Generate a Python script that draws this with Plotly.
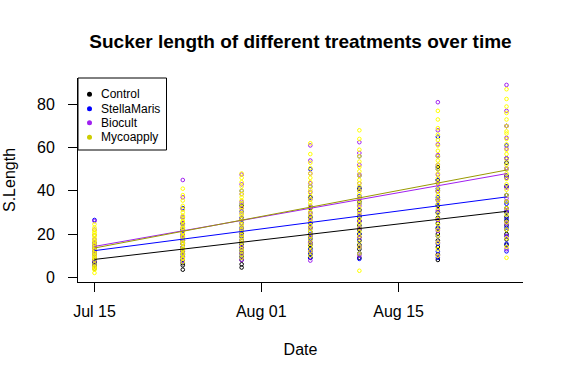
import numpy as np
import pandas as pd
import plotly.graph_objects as go

# ---------------- data ----------------
dates = ["2020-07-15", "2020-07-24", "2020-07-30", "2020-08-06",
         "2020-08-11", "2020-08-19", "2020-08-26"]

treatments = ["Control", "StellaMaris", "Biocult", "Mycoapply"]

control = [
    [4, 5, 5.5, 6, 7, 7.5, 8, 9, 9.5, 10, 11, 12, 13.5, 15],
    [3.5, 5.5, 6.5, 8, 9, 10.5, 12, 13, 14, 15.5, 17, 19, 22, 25],
    [4.5, 6, 8, 9.5, 11, 12.5, 14, 15.5, 17, 18.5, 20, 22, 27, 33],
    [9, 10.5, 12, 13.5, 15, 16, 17.5, 19, 21, 23, 25, 28, 32, 37],
    [9, 11, 13, 15, 17, 18.5, 20, 22, 24, 26, 28, 31, 35, 41],
    [8, 10.5, 14, 17, 20, 22.5, 25, 27.5, 30, 33, 36, 40, 45, 51],
    [15, 17.5, 20, 22, 24, 26, 28, 30, 32, 35, 38, 42, 47, 53],
]
stellamaris = [
    [6, 7.5, 8.5, 9.5, 10.5, 11, 12, 12.5, 13.5, 14.5, 15.5, 15.5, 16, 26.5],
    [7, 8, 9.5, 11, 12.5, 14, 15.5, 17, 18.5, 20, 22, 24.5, 27.5, 32],
    [9, 10.5, 12, 13.5, 15, 17, 19, 21, 23, 25, 27.5, 30.5, 34, 40],
    [9, 11, 13, 15.5, 18, 20, 22.5, 25, 27.5, 30, 33, 37, 42, 50],
    [8.5, 11, 14, 17, 20, 23, 26, 28.5, 31, 34, 37.5, 41.5, 47, 56],
    [9, 12, 15.5, 19, 23, 26.5, 30, 33.5, 37, 41, 45, 50, 56, 65],
    [12, 15.5, 19, 23, 27, 30.5, 34, 38, 42, 46, 50, 55, 61, 70],
]
biocult = [
    [5, 7.5, 9, 10, 11, 12, 13, 14, 15, 16, 17.5, 19.5, 22, 26],
    [7.5, 9.5, 12, 14, 16, 18, 19.5, 21, 23, 25, 28, 31.5, 37, 45],
    [8, 11, 14, 17, 19.5, 22, 24.5, 27, 29.5, 32, 35, 38.5, 43, 47.5],
    [7.7, 12, 16, 19.5, 23, 26.5, 29.5, 32.5, 36, 39.5, 43.5, 48, 54, 61],
    [10, 14, 18.5, 22.5, 26, 29.5, 33, 36.5, 40, 43.5, 47.5, 52, 57.5, 62.5],
    [10, 16, 21.5, 26.5, 31, 35.5, 39.5, 43.5, 47.5, 52, 56.5, 61.5, 68, 81],
    [13, 19, 25, 31, 36.5, 41.5, 46, 50.5, 55, 59.5, 64.5, 70, 77, 89],
]
mycoapply = [
    [2, 4, 3.5, 4.5, 5, 6, 8, 9, 10, 9, 10, 11, 11.5, 12.5,
     13, 14, 15, 15.5, 16.5, 17, 18, 19, 19.5, 20.5, 21, 22, 23, 24.5],
    [7, 8.5, 9, 10.5, 11, 12.5, 13, 14, 15.5, 16, 17, 18.5, 19, 20.5,
     21, 22.5, 23, 24, 25.5, 26, 27.5, 28.5, 30, 31.5, 33, 35.5, 38, 41],
    [9, 10.5, 12, 13, 14.5, 16, 17, 18.5, 19.5, 21, 22, 23.5, 24.5, 26,
     27, 28.5, 29.5, 31, 32.5, 34, 35.5, 37, 38.5, 40, 42, 44, 46, 48],
    [10, 12, 14, 15.5, 17.5, 19, 21, 22.5, 24, 25.5, 27, 28.5, 30, 31.5,
     33, 34.5, 36, 37.5, 39, 40.5, 42, 44, 46, 48, 50.5, 53, 57, 62],
    [3, 11, 14, 16.5, 19, 21, 23, 25, 27, 29, 30.5, 32, 34, 35.5,
     37, 38.5, 40, 42, 43.5, 45, 47, 49, 51, 53.5, 56, 59, 64, 68],
    [10, 13, 16, 19, 22, 24.5, 27, 29.5, 32, 34, 36, 38, 40, 42,
     44, 46, 48, 50, 52, 54, 56, 58.5, 61, 63.5, 66, 69, 73, 77],
    [9, 14, 18, 22, 25.5, 29, 32, 35, 38, 40.5, 43, 45.5, 48, 50,
     52, 54.5, 57, 59, 61.5, 64, 66.5, 67.5, 70, 73, 76, 79, 82.5, 87],
]

y_ticks = [0, 20, 40, 60, 80]
x_tick_dates = ["2020-07-15", "2020-08-01", "2020-08-15"]
x_tick_labels = ["Jul 15", "Aug 01", "Aug 15"]

# ---------------- styling ----------------
point_colors = ["#000000", "#0000FF", "#A020F0", "#FFFF00"]
line_colors = ["#000000", "#0000FF", "#A020F0", "#999900"]
legend_colors = ["#000000", "#0000FF", "#A020F0", "#CDCD00"]
FONT = "Arial, Liberation Sans, sans-serif"

W, H = 564, 380
L, R, T, B = 78, 41, 78, 98

fig = go.Figure()
series = [control, stellamaris, biocult, mycoapply]
d_ts = pd.to_datetime(dates)
d0 = d_ts[0]
for name, groups, pc in zip(treatments, series, point_colors):
    xs, ys = [], []
    for d, vals in zip(dates, groups):
        xs += [d] * len(vals)
        ys += vals
    fig.add_trace(go.Scatter(
        x=xs, y=ys, mode="markers", name=name, showlegend=False,
        marker=dict(symbol="circle-open", size=3.6, color=pc, line=dict(width=1, color=pc)),
    ))

# regression lines (least squares on day number)
for name, groups, lc in zip(treatments, series, line_colors):
    dd, yy = [], []
    for d, vals in zip(d_ts, groups):
        dd += [(d - d0).days] * len(vals)
        yy += vals
    slope, icpt = np.polyfit(dd, yy, 1)
    ends = [d_ts[0], d_ts[-1]]
    fig.add_trace(go.Scatter(
        x=[e.strftime("%Y-%m-%d") for e in ends],
        y=[icpt + slope * (e - d0).days for e in ends],
        mode="lines", showlegend=False, hoverinfo="skip",
        line=dict(color=lc, width=1),
    ))

span = d_ts[-1] - d_ts[0]
xr = [(d_ts[0] - span * 0.04).isoformat(), (d_ts[-1] + span * 0.04).isoformat()]

axis_common = dict(
    showgrid=False, zeroline=False, showline=True, linecolor="black", linewidth=1,
    ticks="outside", ticklen=9, tickwidth=1, tickcolor="black",
    tickfont=dict(family=FONT, size=16, color="black"),
    mirror=False, automargin=False,
)

fig.update_layout(
    width=W, height=H,
    margin=dict(l=L, r=R, t=T, b=B, pad=0),
    paper_bgcolor="white", plot_bgcolor="white",
    font=dict(family=FONT, color="black"),
    title=dict(text="<b>Sucker length of different treatments over time</b>",
               x=(L + (W - L - R) / 2) / W, xanchor="center",
               y=1 - 41 / H, yanchor="middle",
               font=dict(family=FONT, size=19, color="black")),
    xaxis=dict(axis_common, type="date", range=xr,
               tickvals=x_tick_dates, ticktext=x_tick_labels, ticklabelstandoff=6,
               title=dict(text="Date", font=dict(family=FONT, size=16), standoff=24)),
    yaxis=dict(axis_common, range=[-2.2, 92.2], tickvals=y_ticks,
               ticktext=[str(v) for v in y_ticks], ticklabelstandoff=10,
               title=dict(text="S.Length", font=dict(family=FONT, size=16), standoff=17)),
    showlegend=False,
)

# legend drawn in plot-area paper coordinates
pw, ph = W - L - R, H - T - B
def px_x(p):
    return (p - L) / pw
def px_y(p):
    return (H - B - p) / ph

fig.add_shape(type="rect", xref="paper", yref="paper",
              x0=px_x(78), x1=px_x(166.5), y0=px_y(150), y1=px_y(78),
              line=dict(color="black", width=1), fillcolor="white", layer="above")
legend_y = [94.3, 108.7, 122.7, 137.3]
for name, col, yy in zip(treatments, legend_colors, legend_y):
    fig.add_shape(type="circle", xref="paper", yref="paper",
                  xsizemode="pixel", ysizemode="pixel",
                  xanchor=px_x(89.5), yanchor=px_y(yy),
                  x0=-2.5, x1=2.5, y0=-2.5, y1=2.5,
                  fillcolor=col, line=dict(color=col, width=0), layer="above")
    fig.add_annotation(xref="paper", yref="paper", x=px_x(99), y=px_y(yy),
                       text=name, showarrow=False, xanchor="left", yanchor="middle",
                       font=dict(family=FONT, size=12, color="black"))

fig.write_html("out.html", config={"displayModeBar": False},
               post_script="document.body.style.margin='0px';")
